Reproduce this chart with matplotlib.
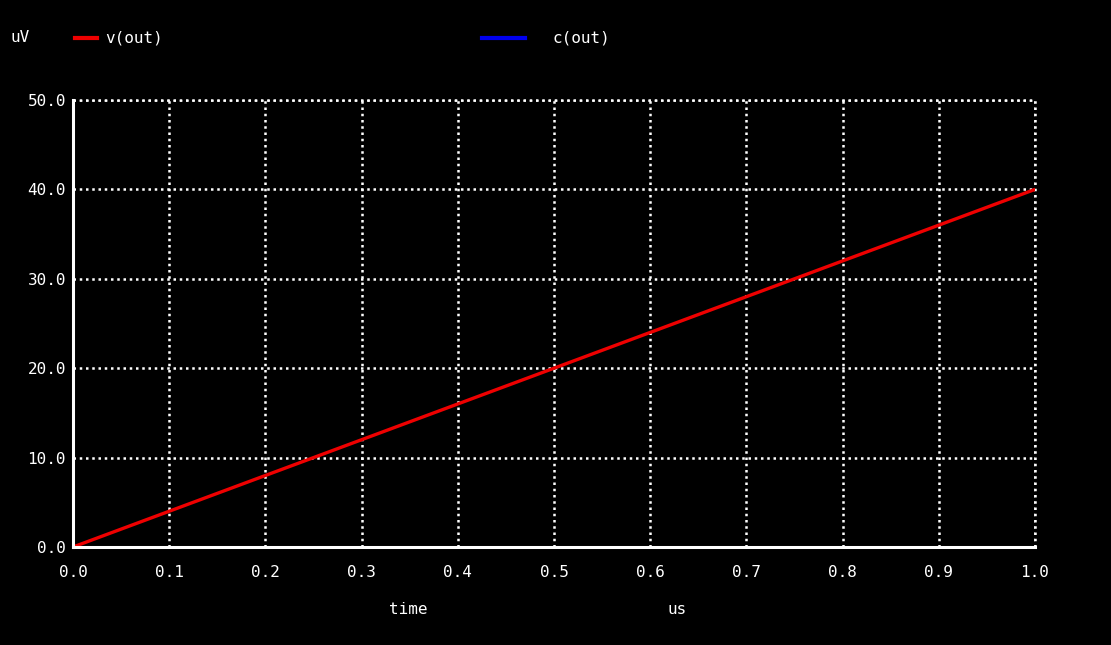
import matplotlib
matplotlib.use("Agg")
import matplotlib.pyplot as plt
from matplotlib.lines import Line2D

# data
time_us = [0.0, 1.0]
v_out_uv = [0.0, 40.0]
x_ticks = [0.0, 0.1, 0.2, 0.3, 0.4, 0.5, 0.6, 0.7, 0.8, 0.9, 1.0]
y_ticks = [0.0, 10.0, 20.0, 30.0, 40.0, 50.0]

FONT = "DejaVu Sans Mono"
FS = 11.5
DOT = (0, (1.0, 1.5))

fig = plt.figure(figsize=(11.11, 6.45), dpi=100, facecolor="black")
ax = fig.add_axes([73 / 1111, 1 - 547 / 645, (1035 - 73) / 1111, (547 - 100) / 645])
ax.set_facecolor("black")

ax.plot(time_us, v_out_uv, color="#ee0000", lw=2.4, solid_capstyle="round", zorder=3)

ax.set_xlim(0, 1)
ax.set_ylim(0, 50)
ax.set_xticks(x_ticks)
ax.set_yticks(y_ticks)
ax.set_xticklabels([f"{t:.1f}" for t in x_ticks], family=FONT, fontsize=FS, color="white")
ax.set_yticklabels([f"{t:.1f}" for t in y_ticks], family=FONT, fontsize=FS, color="white")
ax.tick_params(axis="x", length=0, pad=13)
ax.tick_params(axis="y", length=0, pad=5)

ax.grid(True, color="white", linestyle=DOT, linewidth=1.8, zorder=1)
for s in ("top", "right"):
    ax.spines[s].set_visible(False)
for s in ("left", "bottom"):
    ax.spines[s].set_color("white")
    ax.spines[s].set_linewidth(2.2)
    ax.spines[s].set_zorder(4)
# dotted border on top/right
ax.axhline(50, color="white", linestyle=DOT, linewidth=1.8, clip_on=False)
ax.axvline(1.0, color="white", linestyle=DOT, linewidth=1.8, clip_on=False)

# header legend, ngspice style
fig.text(10 / 1111, 1 - 38 / 645, "uV", family=FONT, fontsize=FS, color="white", va="center")
fig.add_artist(Line2D([75 / 1111, 97 / 1111], [1 - 38 / 645] * 2, color="#ee0000", lw=3))
fig.text(105 / 1111, 1 - 38 / 645, "v(out)", family=FONT, fontsize=FS, color="white", va="center")
fig.add_artist(Line2D([482 / 1111, 525 / 1111], [1 - 38 / 645] * 2, color="#0000ee", lw=3))
fig.text(553 / 1111, 1 - 38 / 645, "c(out)", family=FONT, fontsize=FS, color="white", va="center")

fig.text(408 / 1111, 1 - 610 / 645, "time", family=FONT, fontsize=FS, color="white", ha="center", va="center")
fig.text(677 / 1111, 1 - 610 / 645, "us", family=FONT, fontsize=FS, color="white", ha="center", va="center")

fig.savefig("out.png", dpi=100, facecolor="black")
